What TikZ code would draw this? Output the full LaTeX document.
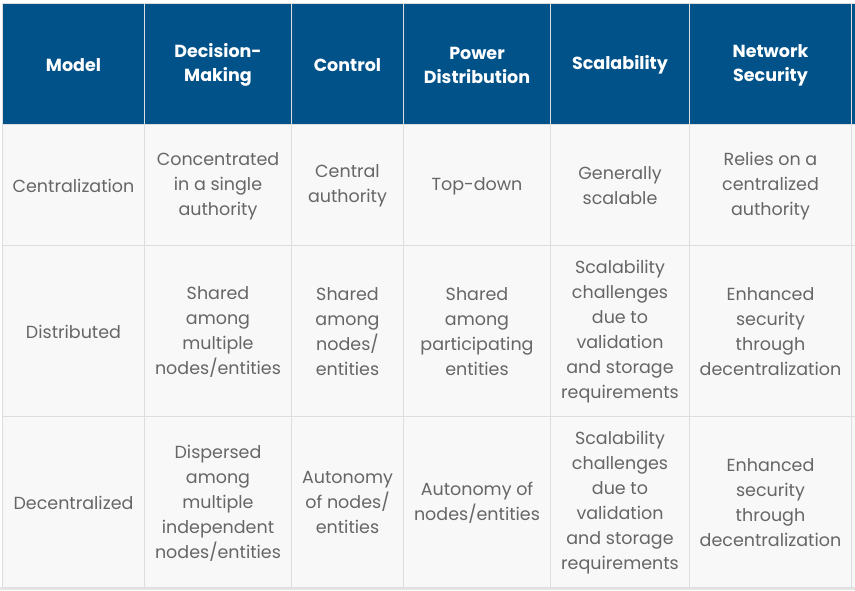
\documentclass[tikz,border=0pt]{standalone}
\usepackage{fontspec}
\setmainfont{Poppins}
\definecolor{headblue}{HTML}{02528A}
\definecolor{cellbg}{HTML}{F8F8F8}
\definecolor{gridline}{HTML}{DDDDDD}
\definecolor{bodytext}{HTML}{666666}
\definecolor{shadow}{HTML}{E4E4E4}
\tikzset{
  headcell/.style={text=white, align=center, inner sep=0pt, yshift=-1.5pt, font={\fontsize{17.5}{24}\selectfont\bfseries}},
  bodycell/.style={text=bodytext, align=center, inner sep=0pt, yshift=-1.5pt, font={\fontsize{17.5}{25}\selectfont}},
  grid/.style={draw=gridline, line width=1pt}
}
\begin{document}
\begin{tikzpicture}[x=1pt,y=-1pt]
\useasboundingbox (0,0) rectangle (855,590);
% backgrounds
\fill[white] (0,0) rectangle (855,590);
\fill[shadow] (0,587) rectangle (855,590);
\fill[cellbg] (2.5,124) rectangle (855,587);
\fill[headblue] (2.5,3) rectangle (855,124);
% grid
\draw[grid] (2.5,3) -- (855,3);
\foreach \yy in {124,245,416,587} \draw[grid] (2.5,\yy) -- (855,\yy);
\foreach \xx in {2.5,144.5,291.5,403.5,550.5,689.5,851.5} \draw[grid] (\xx,3) -- (\xx,587);
% header
\node[headcell] (h1) at (73.5,63.5) {Model};
\node[headcell] (h2) at (218,63.5) {Decision-\\Making};
\node[headcell] (h3) at (347.5,63.5) {Control};
\node[headcell] (h4) at (477,63.5) {Power\\Distribution};
\node[headcell] (h5) at (620,63.5) {Scalability};
\node[headcell] (h6) at (770.5,63.5) {Network\\Security};
% row 1
\node[bodycell] (a1) at (73.5,184.5) {Centralization};
\node[bodycell] (a2) at (218,184.5) {Concentrated\\in a single\\authority};
\node[bodycell] (a3) at (347.5,184.5) {Central\\authority};
\node[bodycell] (a4) at (477,184.5) {Top-down};
\node[bodycell] (a5) at (620,184.5) {Generally\\scalable};
\node[bodycell] (a6) at (770.5,184.5) {Relies on a\\centralized\\authority};
% row 2
\node[bodycell] (b1) at (73.5,330.5) {Distributed};
\node[bodycell] (b2) at (218,330.5) {Shared\\among\\multiple\\nodes/entities};
\node[bodycell] (b3) at (347.5,330.5) {Shared\\among\\nodes/\\entities};
\node[bodycell] (b4) at (477,330.5) {Shared\\among\\participating\\entities};
\node[bodycell] (b5) at (620,330.5) {Scalability\\challenges\\due to\\validation\\and storage\\requirements};
\node[bodycell] (b6) at (770.5,330.5) {Enhanced\\security\\through\\decentralization};
% row 3
\node[bodycell] (c1) at (73.5,501.5) {Decentralized};
\node[bodycell] (c2) at (218,501.5) {Dispersed\\among\\multiple\\independent\\nodes/entities};
\node[bodycell] (c3) at (347.5,501.5) {Autonomy\\of nodes/\\entities};
\node[bodycell] (c4) at (477,501.5) {Autonomy of\\nodes/entities};
\node[bodycell] (c5) at (620,501.5) {Scalability\\challenges\\due to\\validation\\and storage\\requirements};
\node[bodycell] (c6) at (770.5,501.5) {Enhanced\\security\\through\\decentralization};
\end{tikzpicture}
\end{document}
